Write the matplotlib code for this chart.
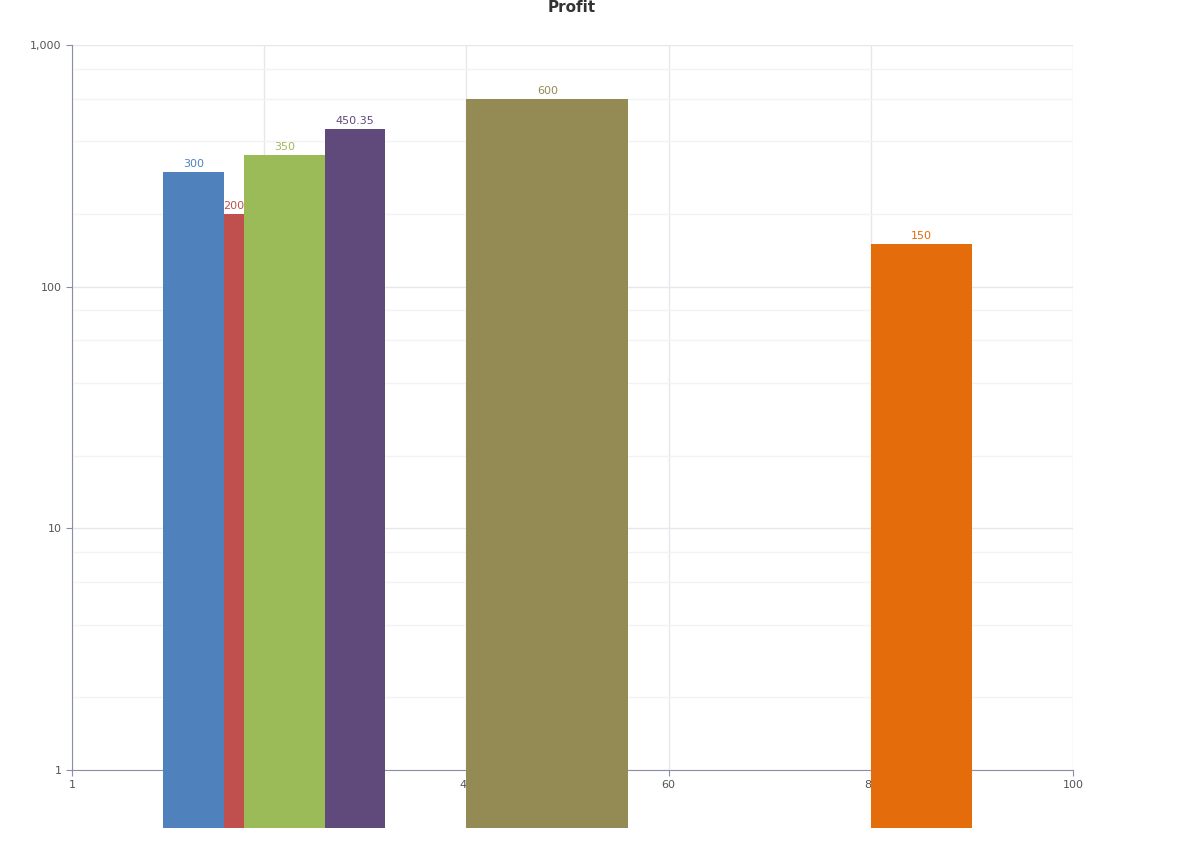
import matplotlib
matplotlib.use("Agg")
import matplotlib.pyplot as plt
from matplotlib.ticker import FixedLocator, FuncFormatter, LogLocator, NullFormatter

starts = [10, 16, 18, 26, 40, 80]
ends = [16, 18, 26, 32, 56, 90]
values = [300, 200, 350, 450.35, 600, 150]
labels = ["300", "200", "350", "450.35", "600", "150"]
colors = ["#4f81bd", "#c0504d", "#9bbb59", "#604a7b", "#948a54", "#e46c0a"]
xticks = [1, 20, 40, 60, 80, 100]

fig = plt.figure(figsize=(11.98, 8.55), dpi=100)
ax = fig.add_axes([0.0601, 0.0994, 0.8357, 0.8476])
ax.set_yscale("log")
ax.set_xlim(1, 100)
ax.set_ylim(1, 1000)
base = 0.576
for s, e, v, l, c in zip(starts, ends, values, labels, colors):
    ax.bar(s, v - base, width=e - s, bottom=base, align="edge", color=c, clip_on=False, zorder=3)
    ax.text((s + e) / 2, v * 1.03, l, ha="center", va="bottom", fontsize=8, color=c, zorder=4)

ax.xaxis.set_major_locator(FixedLocator(xticks))
ax.yaxis.set_major_locator(FixedLocator([1, 10, 100, 1000]))
ax.yaxis.set_major_formatter(FuncFormatter(lambda v, p: f"{int(v):,}"))
ax.yaxis.set_minor_locator(LogLocator(subs=[2, 4, 6, 8]))
ax.yaxis.set_minor_formatter(NullFormatter())
ax.grid(True, which="major", color="#e6e6ee", lw=1, zorder=0)
ax.grid(True, which="minor", axis="y", color="#f3f3f6", lw=1, zorder=0)
ax.tick_params(which="minor", length=0)
ax.tick_params(which="major", labelsize=8, labelcolor="#555555", color="#8a8ea6", length=4)
for sp in ["top", "right"]:
    ax.spines[sp].set_visible(False)
for sp in ["left", "bottom"]:
    ax.spines[sp].set_color("#8a8ea6")
fig.text(572 / 1198, 1 - 8 / 855, "Profit", ha="center", va="center",
         fontsize=11, fontweight="bold", color="#333333")
fig.savefig("out.png", dpi=100)
